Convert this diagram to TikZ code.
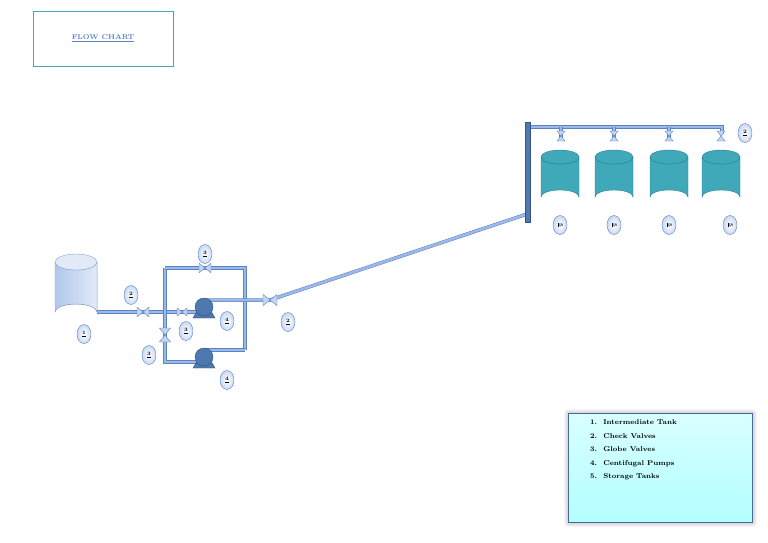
\documentclass[tikz,border=0pt]{standalone}
\usetikzlibrary{shapes.geometric,shadows.blur}
\definecolor{pipe}{HTML}{9DB9E6}
\definecolor{pipeb}{HTML}{5B82C4}
\definecolor{teal1}{HTML}{3FA9BA}
\definecolor{tealb}{HTML}{2E7D8F}
\definecolor{pumpc}{HTML}{4E78B0}
\definecolor{bub}{HTML}{C9D9F3}
\begin{document}
\begin{tikzpicture}[x=1pt,y=-1pt,
 pipe/.style={draw=pipeb,line width=0.5pt,double=pipe,double distance=2.5pt},
 bubble/.style={ellipse,draw=pipeb,inner color=white,outer color=bub,minimum width=14pt,minimum height=19pt,inner sep=0pt,font=\tiny\bfseries},
 lbl/.style={}]
\useasboundingbox (0,0) rectangle (768,543);
% title
\node[draw=teal1,line width=0.8pt,minimum width=140pt,minimum height=55pt] (title) at (103,38.5) {\color{pipeb}\scriptsize\bfseries\underline{FLOW CHART}};
% valves
\newcommand\hvalve[3]{\fill[pipe!60,draw=pipeb,line width=0.4pt] (#1-#3,#2-#3*0.8)--(#1+#3,#2+#3*0.8)--(#1+#3,#2-#3*0.8)--(#1-#3,#2+#3*0.8)--cycle;}
\newcommand\vvalve[3]{\fill[pipe!60,draw=pipeb,line width=0.4pt] (#1-#3*0.8,#2-#3)--(#1+#3*0.8,#2+#3)--(#1-#3*0.8,#2+#3)--(#1+#3*0.8,#2-#3)--cycle;}
% pipes
\coordinate (t1) at (97,312);
\draw[pipe] (t1) -- (200,312);
\draw[pipe] (165,268) -- (165,362) -- (200,362);
\draw[pipe] (165,268) -- (245,268) -- (245,350);
\draw[pipe] (205,350) -- (245,350);
\draw[pipe] (205,300) -- (270,300) -- (527,214);
\draw[pipe] (527,127) -- (722,127) -- (722,134);
\foreach \x in {561,614,669} \draw[pipe] (\x,127)--(\x,140);
% tank 1
\fill[left color=pipe!80,right color=white!70!pipe,draw=pipeb!70] (55,262) -- (55,312) arc(180:360:21 and 8) -- (97,262) arc(0:180:21 and 8);
\draw[pipeb!70,fill=white!70!pipe] (76,262) ellipse (21 and 8);
\node[bubble] (b1) at (84,334) {\underline{1}};
% valves
\hvalve{143}{312}{6}
\hvalve{182}{312}{5}
\hvalve{205}{268}{6}
\vvalve{165}{335}{7}
\hvalve{270}{300}{7}
\foreach \x in {561,614,669,721} {\vvalve{\x}{136}{5}}
% pumps
\foreach \y in {307,357}{
 \fill[pumpc,draw=pumpc!70!black] (197,\y+4)--(193,\y+11)--(215,\y+11)--(211,\y+4)--cycle;
 \fill[pumpc,draw=pumpc!70!black] (204,\y) circle (9);}
% main vertical bar
\fill[pumpc,draw=pumpc!70!black] (525,122) rectangle (530,222);
% storage tanks
\foreach \x in {560,614,669,721}{
 \fill[teal1,draw=tealb] (\x-19,157) -- (\x-19,197) arc(180:360:19 and 7) -- (\x+19,157) arc(0:180:19 and 7);
 \draw[tealb,fill=teal1] (\x,157) ellipse (19 and 7);}
% bubbles
\node[bubble] (b2a) at (131,295) {\underline{2}};
\node[bubble] (b3a) at (205,254) {\underline{3}};
\node[bubble] (b3b) at (186,331) {\underline{3}};
\node[bubble] (b4a) at (227,321) {\underline{4}};
\node[bubble] (b2b) at (288,322) {\underline{2}};
\node[bubble] (b3c) at (149,355) {\underline{3}};
\node[bubble] (b4b) at (227,380) {\underline{4}};
\node[bubble] (b2c) at (745,133) {\underline{2}};
\foreach \x/\n in {560/a,614/b,669/c,730/d}
 \node[bubble] (b5\n) at (\x,225) {\rotatebox{-90}{\underline{5}}};
% legend
\node[draw=pipeb!80!black,line width=1pt,top color=white!40!cyan!25,bottom color=cyan!30,blur shadow={shadow blur steps=8,shadow xshift=0pt,shadow yshift=0pt,shadow blur radius=5pt},minimum width=184pt,minimum height=109pt,anchor=north west] (leg) at (568,413) {};
\node[anchor=north west,align=left,font=\scriptsize\bfseries,inner sep=0pt] (legt) at (590,419) {%
\begin{tabular}{@{}l@{\hspace{6pt}}l@{}}
1.& Intermediate Tank\\[5.5pt]
2.& Check Valves\\[5.5pt]
3.& Globe Valves\\[5.5pt]
4.& Centifugal Pumps\\[5.5pt]
5.& Storage Tanks
\end{tabular}};
\end{tikzpicture}
\end{document}
